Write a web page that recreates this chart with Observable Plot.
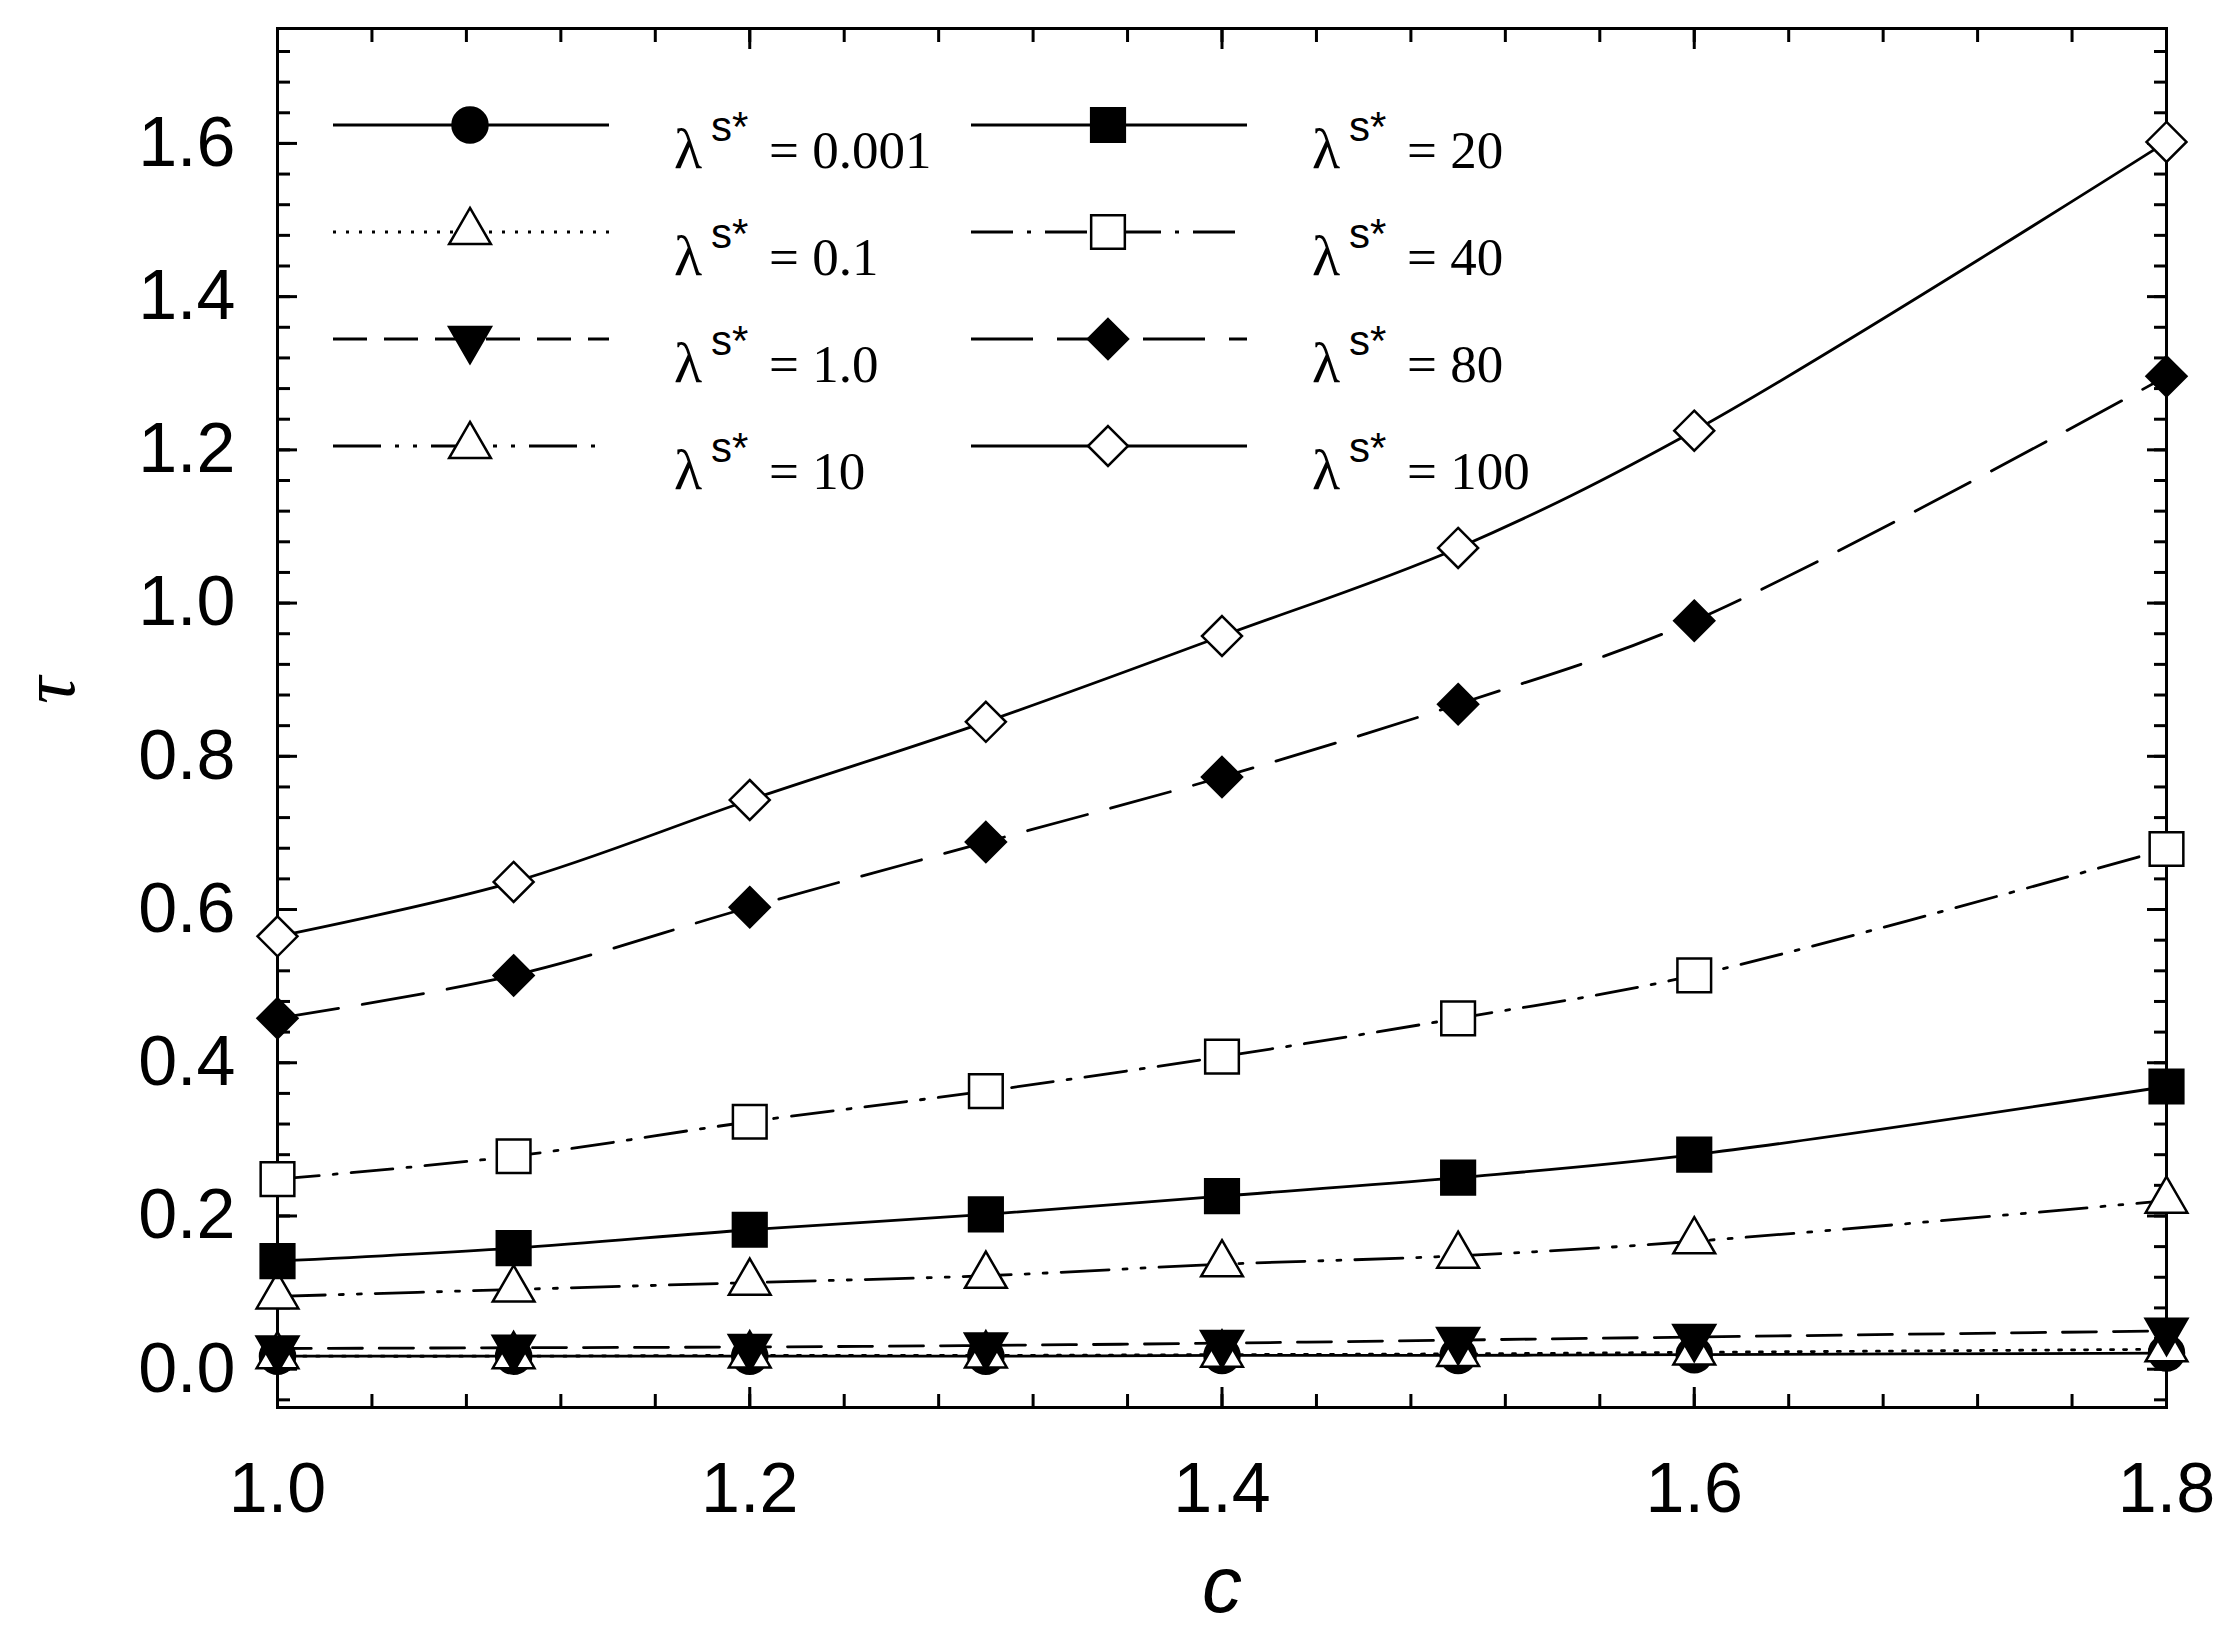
<!DOCTYPE html>
<html><head><meta charset="utf-8">
<script src="https://cdn.jsdelivr.net/npm/d3@7"></script>
<script src="https://cdn.jsdelivr.net/npm/@observablehq/plot@0.6"></script>
<style>body{margin:0;background:#fff} svg{display:block}</style>
</head><body><div id="chart"></div>
<script>
// ---------- data ----------
const cValues = [1.0, 1.1, 1.2, 1.3, 1.4, 1.5, 1.6, 1.8];
const lambdaLabels = ["0.001", "0.1", "1.0", "10", "20", "40", "80", "100"];
const tau_0_001 = [0.017, 0.017, 0.017, 0.017, 0.018, 0.018, 0.019, 0.021];
const tau_0_1   = [0.017, 0.017, 0.018, 0.018, 0.019, 0.020, 0.022, 0.026];
const tau_1     = [0.027, 0.028, 0.029, 0.031, 0.034, 0.038, 0.042, 0.050];
const tau_10    = [0.095, 0.104, 0.113, 0.122, 0.137, 0.148, 0.167, 0.220];
const tau_20    = [0.141, 0.158, 0.182, 0.202, 0.226, 0.250, 0.280, 0.369];
const tau_40    = [0.248, 0.278, 0.323, 0.363, 0.408, 0.458, 0.514, 0.679];
const tau_80    = [0.458, 0.514, 0.603, 0.688, 0.773, 0.868, 0.977, 1.296];
const tau_100   = [0.565, 0.636, 0.743, 0.845, 0.957, 1.072, 1.225, 1.602];
const seriesValues = [tau_0_001, tau_0_1, tau_1, tau_10, tau_20, tau_40, tau_80, tau_100];

const xTicks = [1.0, 1.2, 1.4, 1.6, 1.8];
const xTickLabels = ["1.0", "1.2", "1.4", "1.6", "1.8"];
const yTicks = [0.0, 0.2, 0.4, 0.6, 0.8, 1.0, 1.2, 1.4, 1.6];
const yTickLabels = ["0.0", "0.2", "0.4", "0.6", "0.8", "1.0", "1.2", "1.4", "1.6"];
const xMinorTicks = d3.range(1.0, 1.8001, 0.04).map(v => +v.toFixed(2));
const yMinorTicks = d3.range(-0.04, 1.7401, 0.04).map(v => +v.toFixed(2));
const xTitle = "c";
const yTitle = "τ";

// ---------- styles ----------
const styles = [
  {symbol: "circle",   r: 17.5, fill: "black", dash: null,              rotate: 0},
  {symbol: "triangle", r: 15.5, fill: "white", dash: "3,10",            rotate: 0},
  {symbol: "triangle", r: 15.5, fill: "black", dash: "34,17",           rotate: 180},
  {symbol: "triangle", r: 15.5, fill: "white", dash: "48,14,4,14,4,14", rotate: 0},
  {symbol: "square",   r: 19,   fill: "black", dash: null,              rotate: 0},
  {symbol: "square",   r: 19,   fill: "white", dash: "42,14,4,14",      rotate: 0},
  {symbol: "diamond2", r: 18,   fill: "black", dash: "62,24",           rotate: 0},
  {symbol: "diamond2", r: 18,   fill: "white", dash: null,              rotate: 0}
];

const rows = [];
lambdaLabels.forEach((lab, s) => cValues.forEach((c, i) => rows.push({c, tau: seriesValues[s][i], s})));

const W = 2230, H = 1644;
const M = {left: 277, right: 64, top: 28, bottom: 237};
const SW = 2.8;

const lineMarks = lambdaLabels.map((lab, s) =>
  Plot.line(rows.filter(d => d.s === s), {x: "c", y: "tau", curve: "catmull-rom",
    stroke: "black", strokeWidth: SW, strokeDasharray: styles[s].dash || undefined}));
const dotMarks = lambdaLabels.map((lab, s) =>
  Plot.dot(rows.filter(d => d.s === s), {x: "c", y: "tau", symbol: () => styles[s].symbol,
    r: styles[s].r, fill: styles[s].fill, stroke: "black", strokeWidth: 2.5, rotate: styles[s].rotate}));

const chart = Plot.plot({
  width: W, height: H,
  marginLeft: M.left, marginRight: M.right, marginTop: M.top, marginBottom: M.bottom,
  style: {fontFamily: "'Liberation Sans', Arial, sans-serif", background: "#fff", color: "#000", overflow: "visible"},
  x: {domain: [1.0, 1.8]},
  y: {domain: [-0.05, 1.75]},
  symbol: {type: "identity"},
  marks: [
    Plot.axisX({anchor: "bottom", ticks: xTicks, tickSize: -20, tickPadding: 75, strokeWidth: 3,
      tickFormat: d => xTickLabels[xTicks.indexOf(d)], fontSize: 70, label: null}),
    Plot.axisX({anchor: "bottom", ticks: xMinorTicks, tickSize: -13, strokeWidth: 3, tickFormat: () => "", label: null}),
    Plot.axisX({anchor: "top", ticks: xTicks, tickSize: -20, strokeWidth: 3, tickFormat: () => "", label: null}),
    Plot.axisX({anchor: "top", ticks: xMinorTicks, tickSize: -13, strokeWidth: 3, tickFormat: () => "", label: null}),
    Plot.axisY({anchor: "left", ticks: yTicks, tickSize: -20, tickPadding: 62, strokeWidth: 3,
      tickFormat: d => yTickLabels[yTicks.indexOf(d)], fontSize: 70, label: null}),
    Plot.axisY({anchor: "left", ticks: yMinorTicks, tickSize: -13, strokeWidth: 3, tickFormat: () => "", label: null}),
    Plot.axisY({anchor: "right", ticks: yTicks, tickSize: -20, strokeWidth: 3, tickFormat: () => "", label: null}),
    Plot.axisY({anchor: "right", ticks: yMinorTicks, tickSize: -13, strokeWidth: 3, tickFormat: () => "", label: null}),
    Plot.frame({stroke: "black", strokeWidth: 3}),
    ...lineMarks,
    ...dotMarks,
    Plot.text([xTitle], {frameAnchor: "bottom", dy: 204, fontSize: 80, fontStyle: "italic", fill: "black"}),
    Plot.text([yTitle], {frameAnchor: "left", dx: -228, dy: -14, rotate: -90, fontSize: 76, fontStyle: "italic",
      fontFamily: "'Liberation Serif', 'Times New Roman', serif", fill: "black"})
  ]
});

// ---------- legend (inside the frame, two columns of four) ----------
const svg = d3.select(chart);
const symbolTypes = {circle: d3.symbolCircle, triangle: d3.symbolTriangle, square: d3.symbolSquare, diamond2: d3.symbolDiamond2};
const legend = svg.append("g").attr("class", "legend").attr("text-anchor", "start");
const colX = [333, 971], lineLen = 276, rowY0 = 125, rowStep = 107;
lambdaLabels.forEach((lab, s) => {
  const col = s < 4 ? 0 : 1, row = s % 4;
  const x0 = colX[col], y0 = rowY0 + row * rowStep;
  const st = styles[s];
  legend.append("line").attr("x1", x0).attr("x2", x0 + lineLen).attr("y1", y0).attr("y2", y0)
    .attr("stroke", "black").attr("stroke-width", SW).attr("stroke-dasharray", st.dash);
  legend.append("path")
    .attr("d", d3.symbol(symbolTypes[st.symbol], Math.PI * st.r * st.r)())
    .attr("transform", `translate(${x0 + 137},${y0}) rotate(${st.rotate})`)
    .attr("fill", st.fill).attr("stroke", "black").attr("stroke-width", 2.5);
  const tx = x0 + 341, ty = y0 + 43;
  legend.append("text").attr("x", tx).attr("y", ty).attr("text-anchor", "start")
    .attr("font-family", "'Liberation Serif', 'Times New Roman', serif").attr("font-size", 58).text("λ");
  legend.append("text").attr("x", tx + 37).attr("y", ty - 27).attr("text-anchor", "start")
    .attr("font-family", "'Liberation Sans', Arial, sans-serif").attr("font-size", 42).text("s*");
  legend.append("text").attr("x", tx + 95).attr("y", ty).attr("text-anchor", "start")
    .attr("font-family", "'Liberation Serif', 'Times New Roman', serif").attr("font-size", 53).text("= " + lab);
});

document.getElementById("chart").appendChild(chart);
</script>
</body></html>
